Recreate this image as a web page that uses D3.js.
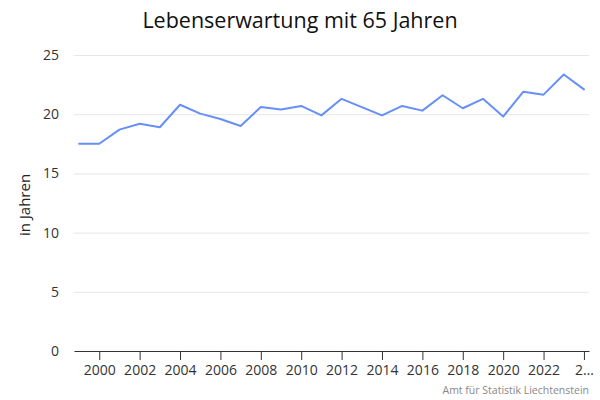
<!DOCTYPE html>
<html>
<head>
<meta charset="utf-8">
<script src="https://cdn.jsdelivr.net/npm/d3@7"></script>
<style>
  html, body { margin: 0; padding: 0; background: #fff; }
  svg { display: block; font-family: "Open Sans", sans-serif; }
</style>
</head>
<body>
<svg id="chart" width="600" height="400"></svg>
<script>
const years = [1999, 2000, 2001, 2002, 2003, 2004, 2005, 2006, 2007, 2008, 2009, 2010, 2011,
               2012, 2013, 2014, 2015, 2016, 2017, 2018, 2019, 2020, 2021, 2022, 2023, 2024];
const values = [17.5, 17.5, 18.7, 19.2, 18.9, 20.8, 20.05, 19.6, 19.0, 20.6, 20.4, 20.7, 19.9,
                21.3, 20.6, 19.9, 20.7, 20.3, 21.6, 20.5, 21.3, 19.8, 21.9, 21.65, 23.35, 22.1];
const yTicks = [0, 5, 10, 15, 20, 25];
const xTicks = [2000, 2002, 2004, 2006, 2008, 2010, 2012, 2014, 2016, 2018, 2020, 2022, 2024];
const xTickLabels = ["2000", "2002", "2004", "2006", "2008", "2010", "2012", "2014", "2016", "2018", "2020", "2022", "2…"];
const title = "Lebenserwartung mit 65 Jahren";
const yTitle = "in Jahren";
const credits = "Amt für Statistik Liechtenstein";

const FONT = "'Open Sans', sans-serif";
const svg = d3.select("#chart");
const x = d3.scaleLinear().domain([1998.75, 2024.25]).range([74, 589]);
const y = d3.scaleLinear().domain([0, 25]).range([351, 55]);

// title
svg.append("text").attr("x", 300).attr("y", 28).attr("text-anchor", "middle")
  .attr("font-size", 21.5).attr("fill", "#111").text(title);

// grid + y axis
const yAxis = d3.axisLeft(y).tickValues(yTicks).tickSize(-(589 - 74)).tickPadding(15);
const gy = svg.append("g").attr("transform", "translate(74,0)").call(yAxis);
gy.select(".domain").remove();
gy.selectAll(".tick line").attr("stroke", "#e6e6e6").attr("stroke-width", 1);
gy.selectAll(".tick text").attr("font-size", 14).attr("fill", "#333").attr("font-family", FONT);

// y title
svg.append("text").attr("transform", "translate(30,205) rotate(-90)")
  .attr("text-anchor", "middle").attr("font-size", 15).attr("fill", "#222").text(yTitle);

// x axis
const xAxis = d3.axisBottom(x).tickValues(xTicks).tickSize(9).tickPadding(5)
  .tickFormat((d, i) => xTickLabels[i]).tickSizeOuter(0);
const gx = svg.append("g").attr("transform", "translate(0,351)").call(xAxis);
gx.select(".domain").attr("stroke", "#333").attr("stroke-width", 1);
gx.selectAll(".tick line").attr("stroke", "#333");
gx.selectAll(".tick text").attr("font-size", 14).attr("fill", "#333").attr("font-family", FONT);

// line
const line = d3.line().x((d, i) => x(years[i])).y(d => y(d));
svg.append("path").datum(values).attr("d", line)
  .attr("fill", "none").attr("stroke", "#6690f8").attr("stroke-width", 2)
  .attr("stroke-linejoin", "round").attr("stroke-linecap", "round");

// credits
svg.append("text").attr("x", 589).attr("y", 394).attr("text-anchor", "end")
  .attr("font-size", 10.5).attr("fill", "#888").text(credits);
</script>
</body>
</html>
